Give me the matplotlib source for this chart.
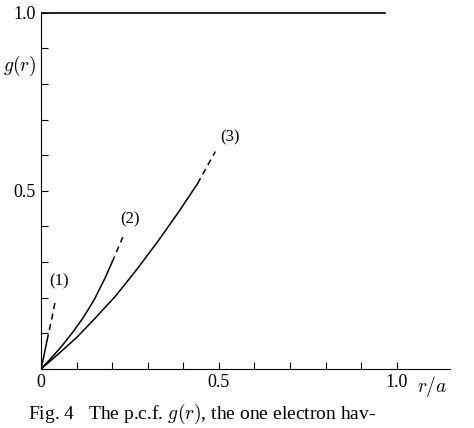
import matplotlib
matplotlib.use("Agg")
import matplotlib.pyplot as plt
import numpy as np

plt.rcParams['font.family'] = ['Liberation Serif', 'DejaVu Serif']
plt.rcParams['mathtext.fontset'] = 'cm'

# curves: (r/a, g(r)); solid part then dashed tail
c1_solid_r = [0.0, 0.005, 0.01, 0.017]
c1_solid_g = [0.0, 0.022, 0.046, 0.08]
c1_dash_r = [0.017, 0.03, 0.04]
c1_dash_g = [0.08, 0.14, 0.19]

c2_solid_r = [0.0, 0.03, 0.06, 0.09, 0.12, 0.15, 0.18, 0.20]
c2_solid_g = [0.0, 0.032, 0.066, 0.104, 0.146, 0.195, 0.255, 0.30]
c2_dash_r = [0.20, 0.215, 0.23]
c2_dash_g = [0.30, 0.335, 0.37]

c3_solid_r = [0.0, 0.05, 0.1, 0.15, 0.21, 0.27, 0.33, 0.39, 0.44]
c3_solid_g = [0.0, 0.043, 0.088, 0.14, 0.205, 0.28, 0.36, 0.445, 0.52]
c3_dash_r = [0.44, 0.465, 0.49]
c3_dash_g = [0.52, 0.565, 0.61]

labels = ["(1)", "(2)", "(3)"]
label_r = [0.05, 0.25, 0.53]
label_g = [0.245, 0.42, 0.65]

fig = plt.figure(figsize=(4.74, 4.28), dpi=100)
ax = fig.add_axes([0.0865, 0.138, 0.863, 0.835])
ax.set_xlim(0, 1.15)
ax.set_ylim(0, 1.003)

for sr, sg, dr, dg in [(c1_solid_r, c1_solid_g, c1_dash_r, c1_dash_g),
                       (c2_solid_r, c2_solid_g, c2_dash_r, c2_dash_g),
                       (c3_solid_r, c3_solid_g, c3_dash_r, c3_dash_g)]:
    ax.plot(sr, sg, color='black', lw=1.1)
    ax.plot(dr, dg, color='black', lw=1.1, dashes=(4, 3))

for t, x, y in zip(labels, label_r, label_g):
    ax.text(x, y, t, fontsize=12, ha='center', va='center')

ax.spines['top'].set_visible(False)
ax.spines['right'].set_visible(False)
ax.axhline(1.0, xmin=0, xmax=0.84, color='black', lw=1.2)
ax.set_xticks(np.arange(0, 1.01, 0.1))
ax.set_xticklabels(['0', '', '', '', '', '0.5', '', '', '', '', '1.0'])
ax.set_yticks(np.arange(0, 1.01, 0.1))
ax.set_yticklabels(['', '', '', '', '', '0.5', '', '', '', '', '1.0'])
ax.tick_params(direction='in', length=5, labelsize=13, pad=4)
ax.text(1.1, -0.015, r'$r/a$', fontsize=14, ha='center', va='top')
ax.text(-0.06, 0.85, r'$g(r)$', fontsize=14, ha='center', va='center')
fig.text(0.06, 0.005, r'Fig. 4   The p.c.f. $g(r)$, the one electron hav-',
         fontsize=14, ha='left', va='bottom')

fig.savefig("out.png", dpi=100)
